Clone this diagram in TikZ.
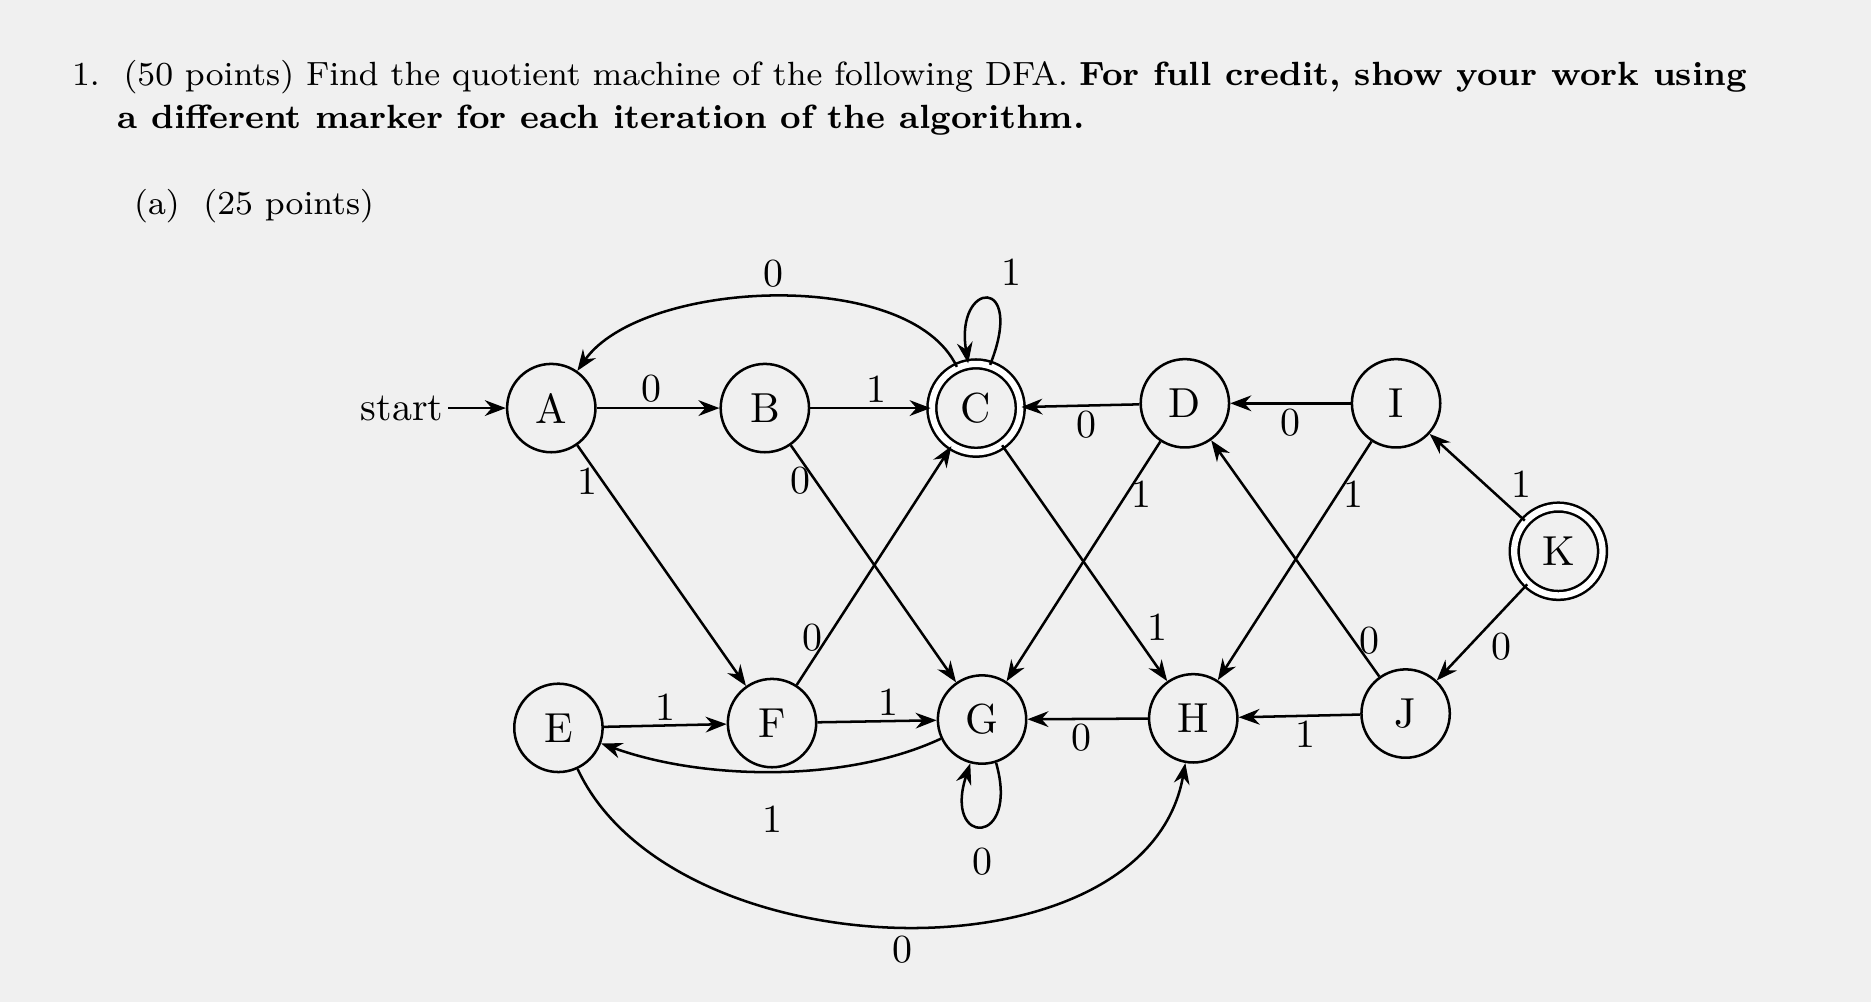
\documentclass[tikz,border=0pt]{standalone}
\usetikzlibrary{arrows.meta}
\begin{document}
\begin{tikzpicture}[x=0.01cm,y=-0.01cm,
  st/.style={circle,draw,semithick,minimum size=0.74cm,inner sep=0pt,font=\fontsize{10}{12}\selectfont},
  acc/.style={st,double,double distance=1.5pt},
  tr/.style={->,>={Stealth[length=5pt]},semithick},
  lb/.style={font=\fontsize{9.5}{11}\selectfont,inner sep=1pt},
  tx/.style={anchor=west,font=\fontsize{8.0}{10}\selectfont}]
\fill[black!6] (0,0) rectangle (1568,840);
\useasboundingbox (0,0) rectangle (1568,840);
\node[tx] (t1) at (48,65) {1.\ \ (50 points) Find the quotient machine of the following DFA. \textbf{For full credit, show your work using}};
\node[tx] (t2) at (86,101) {\textbf{a different marker for each iteration of the algorithm.}};
\node[tx] (t3) at (100,173) {(a)\ \ (25 points)};
\node[st] (A) at (462,342) {A};
\node[st] (B) at (641,342) {B};
\node[acc] (C) at (818,342) {C};
\node[st] (D) at (993,338) {D};
\node[st] (I) at (1170,338) {I};
\node[acc] (K) at (1306,462) {K};
\node[st] (E) at (468,610) {E};
\node[st] (F) at (647,606) {F};
\node[st] (G) at (823,603) {G};
\node[st] (H) at (1000,602) {H};
\node[st] (J) at (1178,598) {J};
\node[lb] (start) at (337,342) {start};
\draw[tr] (start) -- (A);
\draw[tr] (A) -- node[lb,above,pos=0.45]{0} (B);
\draw[tr] (B) -- node[lb,above,pos=0.55]{1} (C);
\draw[tr] (D) -- node[lb,below,pos=0.45]{0} (C);
\draw[tr] (I) -- node[lb,below,pos=0.5]{0} (D);
\draw[tr] (K) -- node[lb,pos=0.2,above right]{1} (I);
\draw[tr] (K) -- node[lb,pos=0.45,below right]{0} (J);
\draw[tr] (J) -- node[lb,below,pos=0.45]{1} (H);
\draw[tr] (H) -- node[lb,below,pos=0.55]{0} (G);
\draw[tr] (A) -- node[lb,pos=0.15,left]{1} (F);
\draw[tr] (B) -- node[lb,pos=0.15,left]{0} (G);
\draw[tr] (F) -- node[lb,pos=0.2,left]{0} (C);
\draw[tr] (C) -- node[lb,pos=0.85,above right]{1} (H);
\draw[tr] (D) -- node[lb,pos=0.22,right]{1} (G);
\draw[tr] (I) -- node[lb,pos=0.22,right]{1} (H);
\draw[tr] (J) -- node[lb,pos=0.15,right]{0} (D);
\draw[tr] (E) -- node[lb,above,pos=0.5]{1} (F);
\draw[tr] (F) -- node[lb,above,pos=0.6]{1} (G);
\draw[tr] (G) to[out=-155,in=-20,looseness=0.8] node[lb,pos=0.5,below=7pt]{1} (E);
\draw[tr] (E) to[out=-65,in=-100,looseness=0.95] node[lb,pos=0.5,below=1pt]{0} (H);
\draw[tr] (C) to[out=115,in=55,looseness=0.75] node[lb,above=1pt]{0} (A);
\draw[tr] (C.72) .. controls (860,230) and (800,235) .. (C.100);
\node[lb] (c1) at (848,228) {1};
\draw[tr] (G.-72) .. controls (855,710) and (790,710) .. (G.-105);
\node[lb] (g0) at (823,722) {0};
\end{tikzpicture}
\end{document}
